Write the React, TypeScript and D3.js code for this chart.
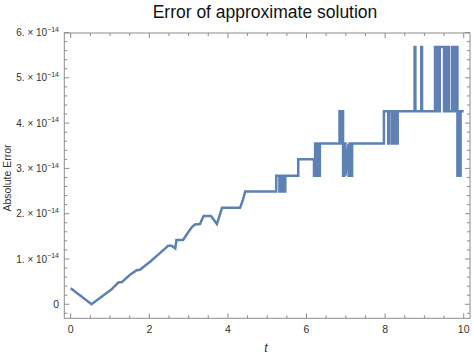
import React from "react";
import * as d3 from "d3";

const W = 474;
const H = 356;

// Data (t, absolute error in units of 1e-14)
const tValues: number[] = [
  0, 0.53, 1.04, 1.21, 1.3, 1.51, 1.68, 1.76, 2.02, 2.27, 2.48, 2.57, 2.66, 2.69, 2.86, 2.99, 3.08, 3.16, 3.29, 3.38, 3.57, 3.72, 3.85, 4.31, 4.38, 4.44, 5.23, 5.23, 5.31,
  5.31, 5.34, 5.34, 5.37, 5.37, 5.4, 5.4, 5.43, 5.43, 5.46, 5.46,
  5.79, 5.79, 6.19,
  6.19, 6.22, 6.22, 6.25, 6.25, 6.28, 6.28, 6.31, 6.31, 6.34, 6.34,
  6.84, 6.84, 6.87, 6.87, 6.9, 6.9, 6.93, 6.93, 6.96, 6.96, 6.99, 6.99,
  7.07, 7.07, 7.1, 7.1, 7.13, 7.13, 7.16, 7.16, 7.19, 7.19,
  7.97, 7.97, 8.08, 8.08, 8.1, 8.1, 8.17,
  8.17, 8.2, 8.2, 8.23, 8.23, 8.26, 8.26, 8.29, 8.29, 8.32, 8.32, 8.34,
  8.75, 8.75, 8.77, 8.77,
  8.92, 8.92, 8.94, 8.94,
  9.27, 9.27, 9.3, 9.3, 9.33, 9.33, 9.36, 9.36, 9.39, 9.39, 9.5, 9.5, 9.53, 9.53, 9.56, 9.56, 9.59, 9.59, 9.62, 9.62, 9.7, 9.7, 9.73, 9.73, 9.76, 9.76, 9.79, 9.79, 9.82, 9.82, 9.84, 9.84,
  9.84, 9.87, 9.87, 9.9, 9.9, 9.92, 9.92,
  10.0,
];

const errValues: number[] = [
  0.355, 0.0, 0.33, 0.48, 0.49, 0.65, 0.75, 0.76, 0.94, 1.13, 1.29, 1.29, 1.23, 1.42, 1.42, 1.59, 1.7, 1.76, 1.77, 1.95, 1.95, 1.77, 2.13, 2.13, 2.3, 2.49, 2.49, 2.84, 2.84,
  2.49, 2.49, 2.84, 2.84, 2.49, 2.49, 2.84, 2.84, 2.49, 2.49, 2.84,
  2.84, 3.2, 3.2,
  2.84, 2.84, 3.55, 3.55, 2.84, 2.84, 3.55, 3.55, 2.84, 2.84, 3.55,
  3.55, 4.26, 4.26, 3.55, 3.55, 4.26, 4.26, 2.84, 2.84, 3.55, 3.55, 2.84,
  3.55, 2.84, 2.84, 3.55, 3.55, 2.84, 2.84, 3.55, 3.55, 3.55,
  3.55, 4.26, 4.26, 3.55, 3.55, 4.26, 4.26,
  3.55, 3.55, 4.26, 4.26, 3.55, 3.55, 4.26, 4.26, 3.55, 3.55, 4.26, 4.26,
  4.26, 5.68, 5.68, 4.26,
  4.26, 5.68, 5.68, 4.26,
  4.26, 5.68, 5.68, 4.26, 4.26, 5.68, 5.68, 4.26, 4.26, 5.68, 5.68, 4.26, 4.26, 5.68, 5.68, 4.26, 4.26, 5.68, 5.68, 4.26, 4.26, 5.68, 5.68, 4.26, 4.26, 5.68, 5.68, 4.26, 4.26, 5.68, 5.68, 4.26,
  2.84, 2.84, 4.26, 4.26, 2.84, 2.84, 4.26,
  4.26,
];

const xMajorTicks: number[] = [0, 2, 4, 6, 8, 10];
const yMajorTicks: number[] = [0, 1, 2, 3, 4, 5, 6];
const yTickLabels: string[] = ["0", "1.", "2.", "3.", "4.", "5.", "6."];

const FRAME = { left: 64.3, right: 470, top: 33, bottom: 318.3 };

export default function App() {
  const x = d3.scaleLinear().domain([-0.163, 10.16]).range([FRAME.left, FRAME.right]);
  const y = d3.scaleLinear().domain([-0.31, 5.99]).range([FRAME.bottom, FRAME.top]);

  const pts: [number, number][] = tValues.map((t, i) => [t, errValues[i]]);
  const line = d3
    .line<[number, number]>()
    .x((d) => x(d[0]))
    .y((d) => y(d[1]));

  const xMinor: number[] = d3.range(0, 10.01, 0.5).filter((v) => Math.abs(v / 2 - Math.round(v / 2)) > 1e-6);
  const yMinor: number[] = d3.range(-0.2, 6.0, 0.2).filter((v) => Math.abs(v - Math.round(v)) > 1e-6);

  const frameColor = "#8c8c8c";
  const textColor = "#333";
  const font = "'Liberation Sans', Arial, sans-serif";

  return (
    <svg
      width={W}
      height={H}
      style={{ position: "absolute", left: 0, top: 0, background: "#fff" }}
      fontFamily={font}
    >
      <rect x={0} y={0} width={W} height={H} fill="#fff" />
      <text x={265} y={17.5} textAnchor="middle" fontSize={17.5} fill="#111">
        Error of approximate solution
      </text>

      <path d={line(pts) || ""} fill="none" stroke="#5E81B5" strokeWidth={2.5} strokeLinejoin="miter" />

      <rect
        x={FRAME.left}
        y={FRAME.top}
        width={FRAME.right - FRAME.left}
        height={FRAME.bottom - FRAME.top}
        fill="none"
        stroke={frameColor}
        strokeWidth={1}
      />

      {/* x ticks, bottom and top */}
      {xMajorTicks.map((t) => (
        <g key={"xM" + t}>
          <line x1={x(t)} x2={x(t)} y1={FRAME.bottom} y2={FRAME.bottom - 5} stroke={frameColor} />
          <line x1={x(t)} x2={x(t)} y1={FRAME.top} y2={FRAME.top + 5} stroke={frameColor} />
          <text x={x(t)} y={333} textAnchor="middle" fontSize={10.5} fill={textColor}>
            {String(t)}
          </text>
        </g>
      ))}
      {xMinor.map((t) => (
        <g key={"xm" + t}>
          <line x1={x(t)} x2={x(t)} y1={FRAME.bottom} y2={FRAME.bottom - 3} stroke={frameColor} />
          <line x1={x(t)} x2={x(t)} y1={FRAME.top} y2={FRAME.top + 3} stroke={frameColor} />
        </g>
      ))}

      {/* y ticks, left and right */}
      {yMajorTicks.map((v, i) => (
        <g key={"yM" + v}>
          <line x1={FRAME.left} x2={FRAME.left + 5} y1={y(v)} y2={y(v)} stroke={frameColor} />
          <line x1={FRAME.right} x2={FRAME.right - 5} y1={y(v)} y2={y(v)} stroke={frameColor} />
          {v === 0 ? (
            <text x={59} y={y(v) + 3.6} textAnchor="end" fontSize={10.5} fill={textColor}>
              0
            </text>
          ) : (
            <text x={59} y={y(v) + 3.6} textAnchor="end" fontSize={10} fill={textColor}>
              {yTickLabels[i] + " × 10"}
              <tspan fontSize={7} dy={-4.5}>
                {"−14"}
              </tspan>
            </text>
          )}
        </g>
      ))}
      {yMinor.map((v) => (
        <g key={"ym" + v.toFixed(1)}>
          <line x1={FRAME.left} x2={FRAME.left + 3} y1={y(v)} y2={y(v)} stroke={frameColor} />
          <line x1={FRAME.right} x2={FRAME.right - 3} y1={y(v)} y2={y(v)} stroke={frameColor} />
        </g>
      ))}

      <text
        transform={`translate(10.5,178) rotate(-90)`}
        textAnchor="middle"
        fontSize={10.5}
        fill={textColor}
      >
        Absolute Error
      </text>
      <text x={266} y={352} textAnchor="middle" fontSize={12.5} fontStyle="italic" fill={textColor}>
        t
      </text>
    </svg>
  );
}
